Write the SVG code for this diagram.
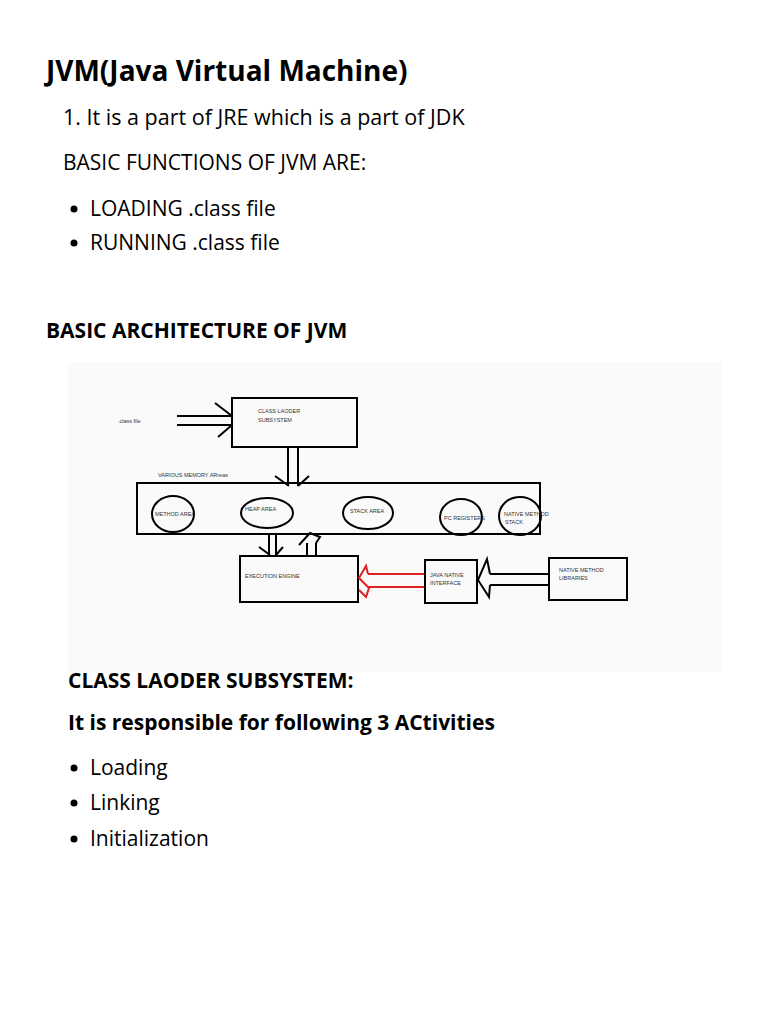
<svg xmlns="http://www.w3.org/2000/svg" width="768" height="1024" viewBox="0 0 768 1024">
<style>
.t{font-family:"Open Sans","Liberation Sans",sans-serif;fill:#000}
.b{font-weight:bold}
.s{font-family:"Liberation Sans",sans-serif;font-size:5.5px;fill:#333}
.k{fill:none;stroke:#000;stroke-width:2}
.r{fill:none;stroke:#e02020;stroke-width:2}
</style>
<rect width="768" height="1024" fill="#fff"/>
<text class="t b" x="46" y="81" font-size="28">JVM(Java Virtual Machine)</text>
<text class="t" x="63" y="125" font-size="21.5">1. It is a part of JRE which is a part of JDK</text>
<text class="t" x="63" y="170" font-size="21">BASIC FUNCTIONS OF JVM ARE:</text>
<circle cx="74" cy="209" r="3.5"/><text class="t" x="90" y="216" font-size="21">LOADING .class file</text>
<circle cx="74" cy="243" r="3.5"/><text class="t" x="90" y="250" font-size="21">RUNNING .class file</text>
<text class="t b" x="46" y="338" font-size="21">BASIC ARCHITECTURE OF JVM</text>
<rect x="68" y="362" width="654" height="310" fill="#fafafa"/>
<g id="classfile"><text class="s" x="118" y="423">.class file</text></g>
<g id="classloader"><rect class="k" x="232" y="398" width="125" height="49"/><text class="s" x="258" y="413">CLASS LAODER</text><text class="s" x="258" y="422">SUBSYSTEM</text></g>
<g id="memory"><rect class="k" x="137" y="483" width="403" height="51"/><text class="s" x="158" y="477">VARIOUS MEMORY ARreas</text></g>
<g id="method"><ellipse class="k" cx="173" cy="514" rx="21" ry="18"/><text class="s" x="155" y="516">METHOD AREA</text></g>
<g id="heap"><ellipse class="k" cx="267" cy="513" rx="26" ry="15"/><text class="s" x="245" y="511">HEAP AREA</text></g>
<g id="stack"><ellipse class="k" cx="368" cy="513" rx="25" ry="16"/><text class="s" x="350" y="513">STACK AREA</text></g>
<g id="pc"><ellipse class="k" cx="461" cy="517" rx="21" ry="18"/><text class="s" x="444" y="520">PC REGISTERS</text></g>
<g id="nms"><ellipse class="k" cx="520" cy="516" rx="21" ry="19"/><text class="s" x="504" y="516">NATIVE METHOD</text><text class="s" x="505" y="524">STACK</text></g>
<g id="exec"><rect class="k" x="240" y="556" width="118" height="46"/><text class="s" x="245" y="578">EXECUTION ENGINE</text></g>
<g id="jni"><rect class="k" x="425" y="560" width="52" height="43"/><text class="s" x="430" y="577">JAVA NATIVE</text><text class="s" x="430" y="585">INTERFACE</text></g>
<g id="libs"><rect class="k" x="549" y="558" width="78" height="42"/><text class="s" x="559" y="572">NATIVE METHOD</text><text class="s" x="559" y="580">LIBRARIES</text></g>
<g id="connectors">
<path class="k" d="M177 416H232M177 425H232M215 403L232 416M218 437L232 425"/>
<path class="k" d="M288 447V486M298 447V486M275 476L289 486M309 476L298 486"/>
<path class="k" d="M269 534V556M276 534V556M259 547L270 555M283 547L276 555"/>
<path class="k" d="M307 556V543M316 556V543M299 545L310 533L320 537L316 543"/>
<path class="r" d="M424 574H368M424 587H368M368 574L366 566L359 578L369 588L366 597L359 590"/>
<path class="k" d="M548 574H490M548 585H490M490 574L487 559L478 580L489 597L490 585"/>
</g>
<text class="t b" x="68" y="688" font-size="21">CLASS LAODER SUBSYSTEM:</text>
<text class="t b" x="68" y="730" font-size="21">It is responsible for following 3 ACtivities</text>
<circle cx="74" cy="768" r="3.5"/><text class="t" x="90" y="775" font-size="21">Loading</text>
<circle cx="74" cy="803" r="3.5"/><text class="t" x="90" y="810" font-size="21">Linking</text>
<circle cx="74" cy="839" r="3.5"/><text class="t" x="90" y="846" font-size="21">Initialization</text>
</svg>
